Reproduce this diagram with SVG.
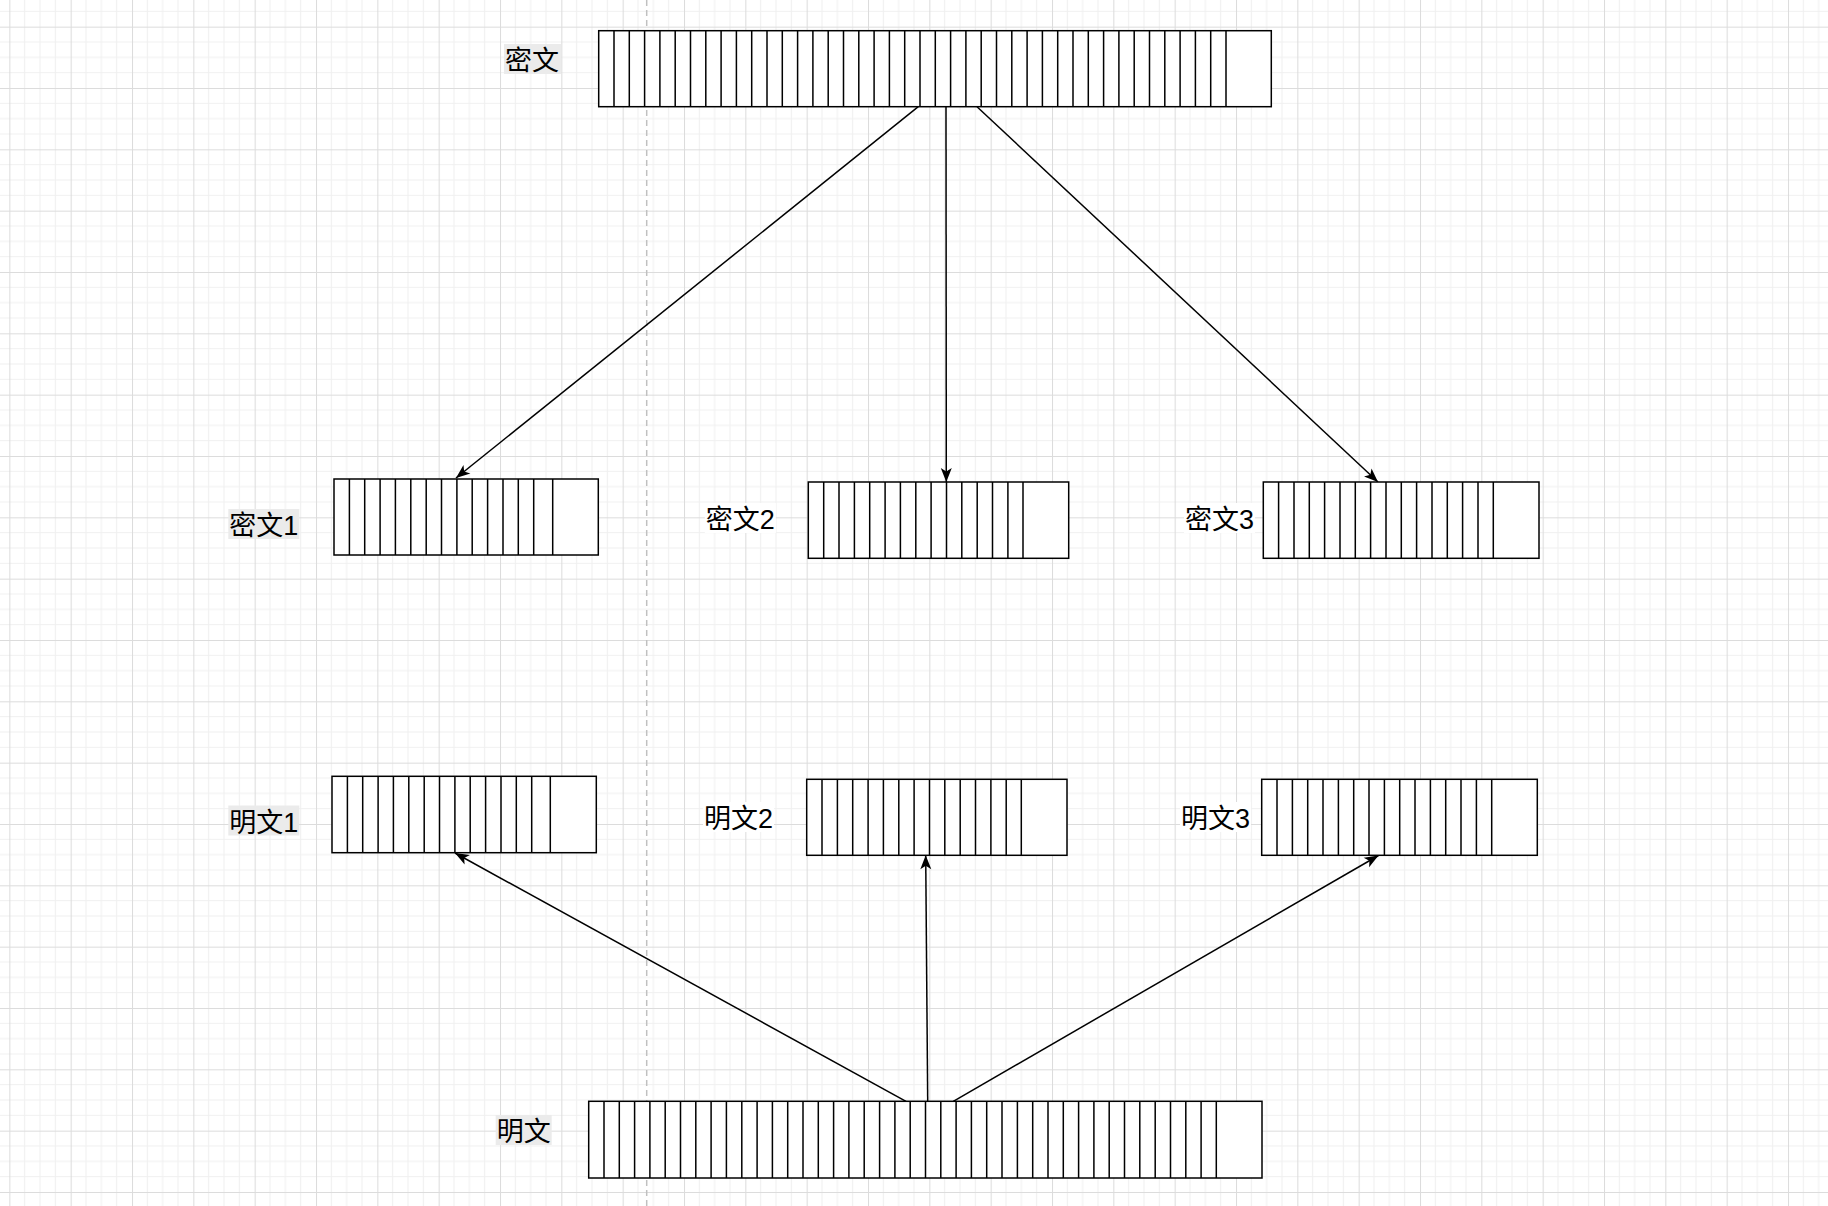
<svg xmlns="http://www.w3.org/2000/svg" width="1828" height="1206" viewBox="0 0 1828 1206">
<style>
.box{fill:#ffffff;stroke:#000000;stroke-width:1.5}
.cell{stroke:#000000;stroke-width:1.5;fill:none}
.lbl{font-family:"Liberation Sans","Noto Sans CJK SC",sans-serif;font-size:27px;fill:#000000}
.lblbg{fill:#ebebeb}
.lblbgw{fill:#ffffff}
.edge{stroke:#000000;stroke-width:1.5;fill:none;marker-end:url(#arr)}
</style>
<defs>
<pattern id="grid" patternUnits="userSpaceOnUse" x="9.333" y="26.667" width="61.333" height="61.333">
<rect width="61.333" height="61.333" fill="#ffffff"/>
<path d="M15.333 0V61.333M30.667 0V61.333M46 0V61.333M0 15.333H61.333M0 30.667H61.333M0 46H61.333" stroke="#f0f0f0" stroke-width="1"/>
<path d="M0.5 0V61.333M0 0.5H61.333" stroke="#dcdcdc" stroke-width="1"/>
</pattern>
<marker id="arr" markerUnits="userSpaceOnUse" viewBox="-15 -7 16 14" refX="0" refY="0" markerWidth="16" markerHeight="14" orient="auto">
<path d="M0,0 L-14,-5.5 L-10.5,0 L-14,5.5 Z" fill="#000000"/>
</marker>
</defs>
<rect x="0" y="0" width="1828" height="1206" fill="url(#grid)"/>
<line x1="646.7" y1="0" x2="646.7" y2="1206" stroke="#c0c0c0" stroke-width="1.5" stroke-dasharray="6 4"/>

<g id="connectors">
<line class="edge" x1="918.3" y1="106.7" x2="456" y2="478"/>
<line class="edge" x1="946" y1="106.7" x2="946.3" y2="482"/>
<line class="edge" x1="977" y1="106.7" x2="1378" y2="482"/>
<line class="edge" x1="906" y1="1101.3" x2="455" y2="853"/>
<line class="edge" x1="927.7" y1="1101.3" x2="925.7" y2="855.3"/>
<line class="edge" x1="953.3" y1="1101.3" x2="1378.5" y2="855.5"/>
</g>

<g id="node-miwen">
<rect class="lblbg" x="504" y="44" width="57" height="30"/>
<text class="lbl" x="505" y="70">密文</text>
<rect class="box" x="598.7" y="30.7" width="672.6" height="76"/>
<path class="cell" d="M614 30.7V106.7M629.3 30.7V106.7M644.6 30.7V106.7M659.9 30.7V106.7M675.2 30.7V106.7M690.5 30.7V106.7M705.8 30.7V106.7M721.1 30.7V106.7M736.4 30.7V106.7M751.7 30.7V106.7M767 30.7V106.7M782.3 30.7V106.7M797.6 30.7V106.7M812.9 30.7V106.7M828.2 30.7V106.7M843.5 30.7V106.7M858.8 30.7V106.7M874.1 30.7V106.7M889.4 30.7V106.7M904.7 30.7V106.7M920 30.7V106.7M935.3 30.7V106.7M950.6 30.7V106.7M965.9 30.7V106.7M981.2 30.7V106.7M996.5 30.7V106.7M1011.8 30.7V106.7M1027.1 30.7V106.7M1042.4 30.7V106.7M1057.7 30.7V106.7M1073 30.7V106.7M1088.3 30.7V106.7M1103.6 30.7V106.7M1118.9 30.7V106.7M1134.2 30.7V106.7M1149.5 30.7V106.7M1164.8 30.7V106.7M1180.1 30.7V106.7M1195.4 30.7V106.7M1210.7 30.7V106.7M1226 30.7V106.7"/>
</g>

<g id="node-miwen1">
<rect class="lblbg" x="228.3" y="509" width="71" height="30"/>
<text class="lbl" x="229.3" y="535">密文1</text>
<rect class="box" x="334" y="479" width="264.3" height="76"/>
<path class="cell" d="M349.4 479V555M364.7 479V555M380.1 479V555M395.4 479V555M410.8 479V555M426.2 479V555M441.5 479V555M456.9 479V555M472.2 479V555M487.6 479V555M503 479V555M518.3 479V555M533.7 479V555M552.7 479V555"/>
</g>

<g id="node-miwen2">
<rect class="lblbgw" x="704.8" y="503" width="71" height="30"/>
<text class="lbl" x="705.8" y="529">密文2</text>
<rect class="box" x="808.3" y="482" width="260.4" height="76.3"/>
<path class="cell" d="M823.7 482V558.3M839 482V558.3M854.4 482V558.3M869.7 482V558.3M885.1 482V558.3M900.4 482V558.3M915.8 482V558.3M931.1 482V558.3M946.5 482V558.3M961.8 482V558.3M977.2 482V558.3M992.5 482V558.3M1007.9 482V558.3M1023 482V558.3"/>
</g>

<g id="node-miwen3">
<rect class="lblbgw" x="1184" y="503" width="71" height="30"/>
<text class="lbl" x="1185" y="529">密文3</text>
<rect class="box" x="1263.3" y="482" width="275.7" height="76.3"/>
<path class="cell" d="M1278.6 482V558.3M1294 482V558.3M1309.3 482V558.3M1324.6 482V558.3M1340 482V558.3M1355.3 482V558.3M1370.6 482V558.3M1386 482V558.3M1401.3 482V558.3M1416.6 482V558.3M1432 482V558.3M1447.3 482V558.3M1462.6 482V558.3M1478 482V558.3M1493.3 482V558.3"/>
</g>

<g id="node-mingwen1">
<rect class="lblbg" x="228.3" y="805.5" width="71" height="30"/>
<text class="lbl" x="229.3" y="831.5">明文1</text>
<rect class="box" x="332" y="776.3" width="264.3" height="76.4"/>
<path class="cell" d="M347.4 776.3V852.7M362.7 776.3V852.7M378.1 776.3V852.7M393.4 776.3V852.7M408.8 776.3V852.7M424.2 776.3V852.7M439.5 776.3V852.7M454.9 776.3V852.7M470.2 776.3V852.7M485.6 776.3V852.7M501 776.3V852.7M516.3 776.3V852.7M531.7 776.3V852.7M550.3 776.3V852.7"/>
</g>

<g id="node-mingwen2">
<rect class="lblbgw" x="703" y="802" width="71" height="30"/>
<text class="lbl" x="704" y="828">明文2</text>
<rect class="box" x="806.7" y="779.3" width="260.3" height="76"/>
<path class="cell" d="M822 779.3V855.3M837.4 779.3V855.3M852.7 779.3V855.3M868.1 779.3V855.3M883.4 779.3V855.3M898.8 779.3V855.3M914.1 779.3V855.3M929.5 779.3V855.3M944.8 779.3V855.3M960.2 779.3V855.3M975.5 779.3V855.3M990.9 779.3V855.3M1006.2 779.3V855.3M1021.3 779.3V855.3"/>
</g>

<g id="node-mingwen3">
<rect class="lblbgw" x="1180" y="802" width="71" height="30"/>
<text class="lbl" x="1181" y="828">明文3</text>
<rect class="box" x="1261.7" y="779.3" width="275.6" height="76"/>
<path class="cell" d="M1277 779.3V855.3M1292.4 779.3V855.3M1307.7 779.3V855.3M1323 779.3V855.3M1338.4 779.3V855.3M1353.7 779.3V855.3M1369 779.3V855.3M1384.4 779.3V855.3M1399.7 779.3V855.3M1415 779.3V855.3M1430.4 779.3V855.3M1445.7 779.3V855.3M1461 779.3V855.3M1476.4 779.3V855.3M1491.7 779.3V855.3"/>
</g>

<g id="node-mingwen">
<rect class="lblbg" x="495.7" y="1115" width="56" height="30"/>
<text class="lbl" x="496.7" y="1141">明文</text>
<rect class="box" x="588.7" y="1101.3" width="673.3" height="76.7"/>
<path class="cell" d="M604 1101.3V1178M619.3 1101.3V1178M634.6 1101.3V1178M649.9 1101.3V1178M665.2 1101.3V1178M680.5 1101.3V1178M695.8 1101.3V1178M711.1 1101.3V1178M726.4 1101.3V1178M741.8 1101.3V1178M757.1 1101.3V1178M772.4 1101.3V1178M787.7 1101.3V1178M803 1101.3V1178M818.3 1101.3V1178M833.6 1101.3V1178M848.9 1101.3V1178M864.2 1101.3V1178M879.6 1101.3V1178M894.9 1101.3V1178M910.2 1101.3V1178M925.5 1101.3V1178M940.8 1101.3V1178M956.1 1101.3V1178M971.4 1101.3V1178M986.7 1101.3V1178M1002 1101.3V1178M1017.4 1101.3V1178M1032.7 1101.3V1178M1048 1101.3V1178M1063.3 1101.3V1178M1078.6 1101.3V1178M1093.9 1101.3V1178M1109.2 1101.3V1178M1124.5 1101.3V1178M1139.8 1101.3V1178M1155.2 1101.3V1178M1170.5 1101.3V1178M1185.8 1101.3V1178M1201.1 1101.3V1178M1216.3 1101.3V1178"/>
</g>
</svg>
